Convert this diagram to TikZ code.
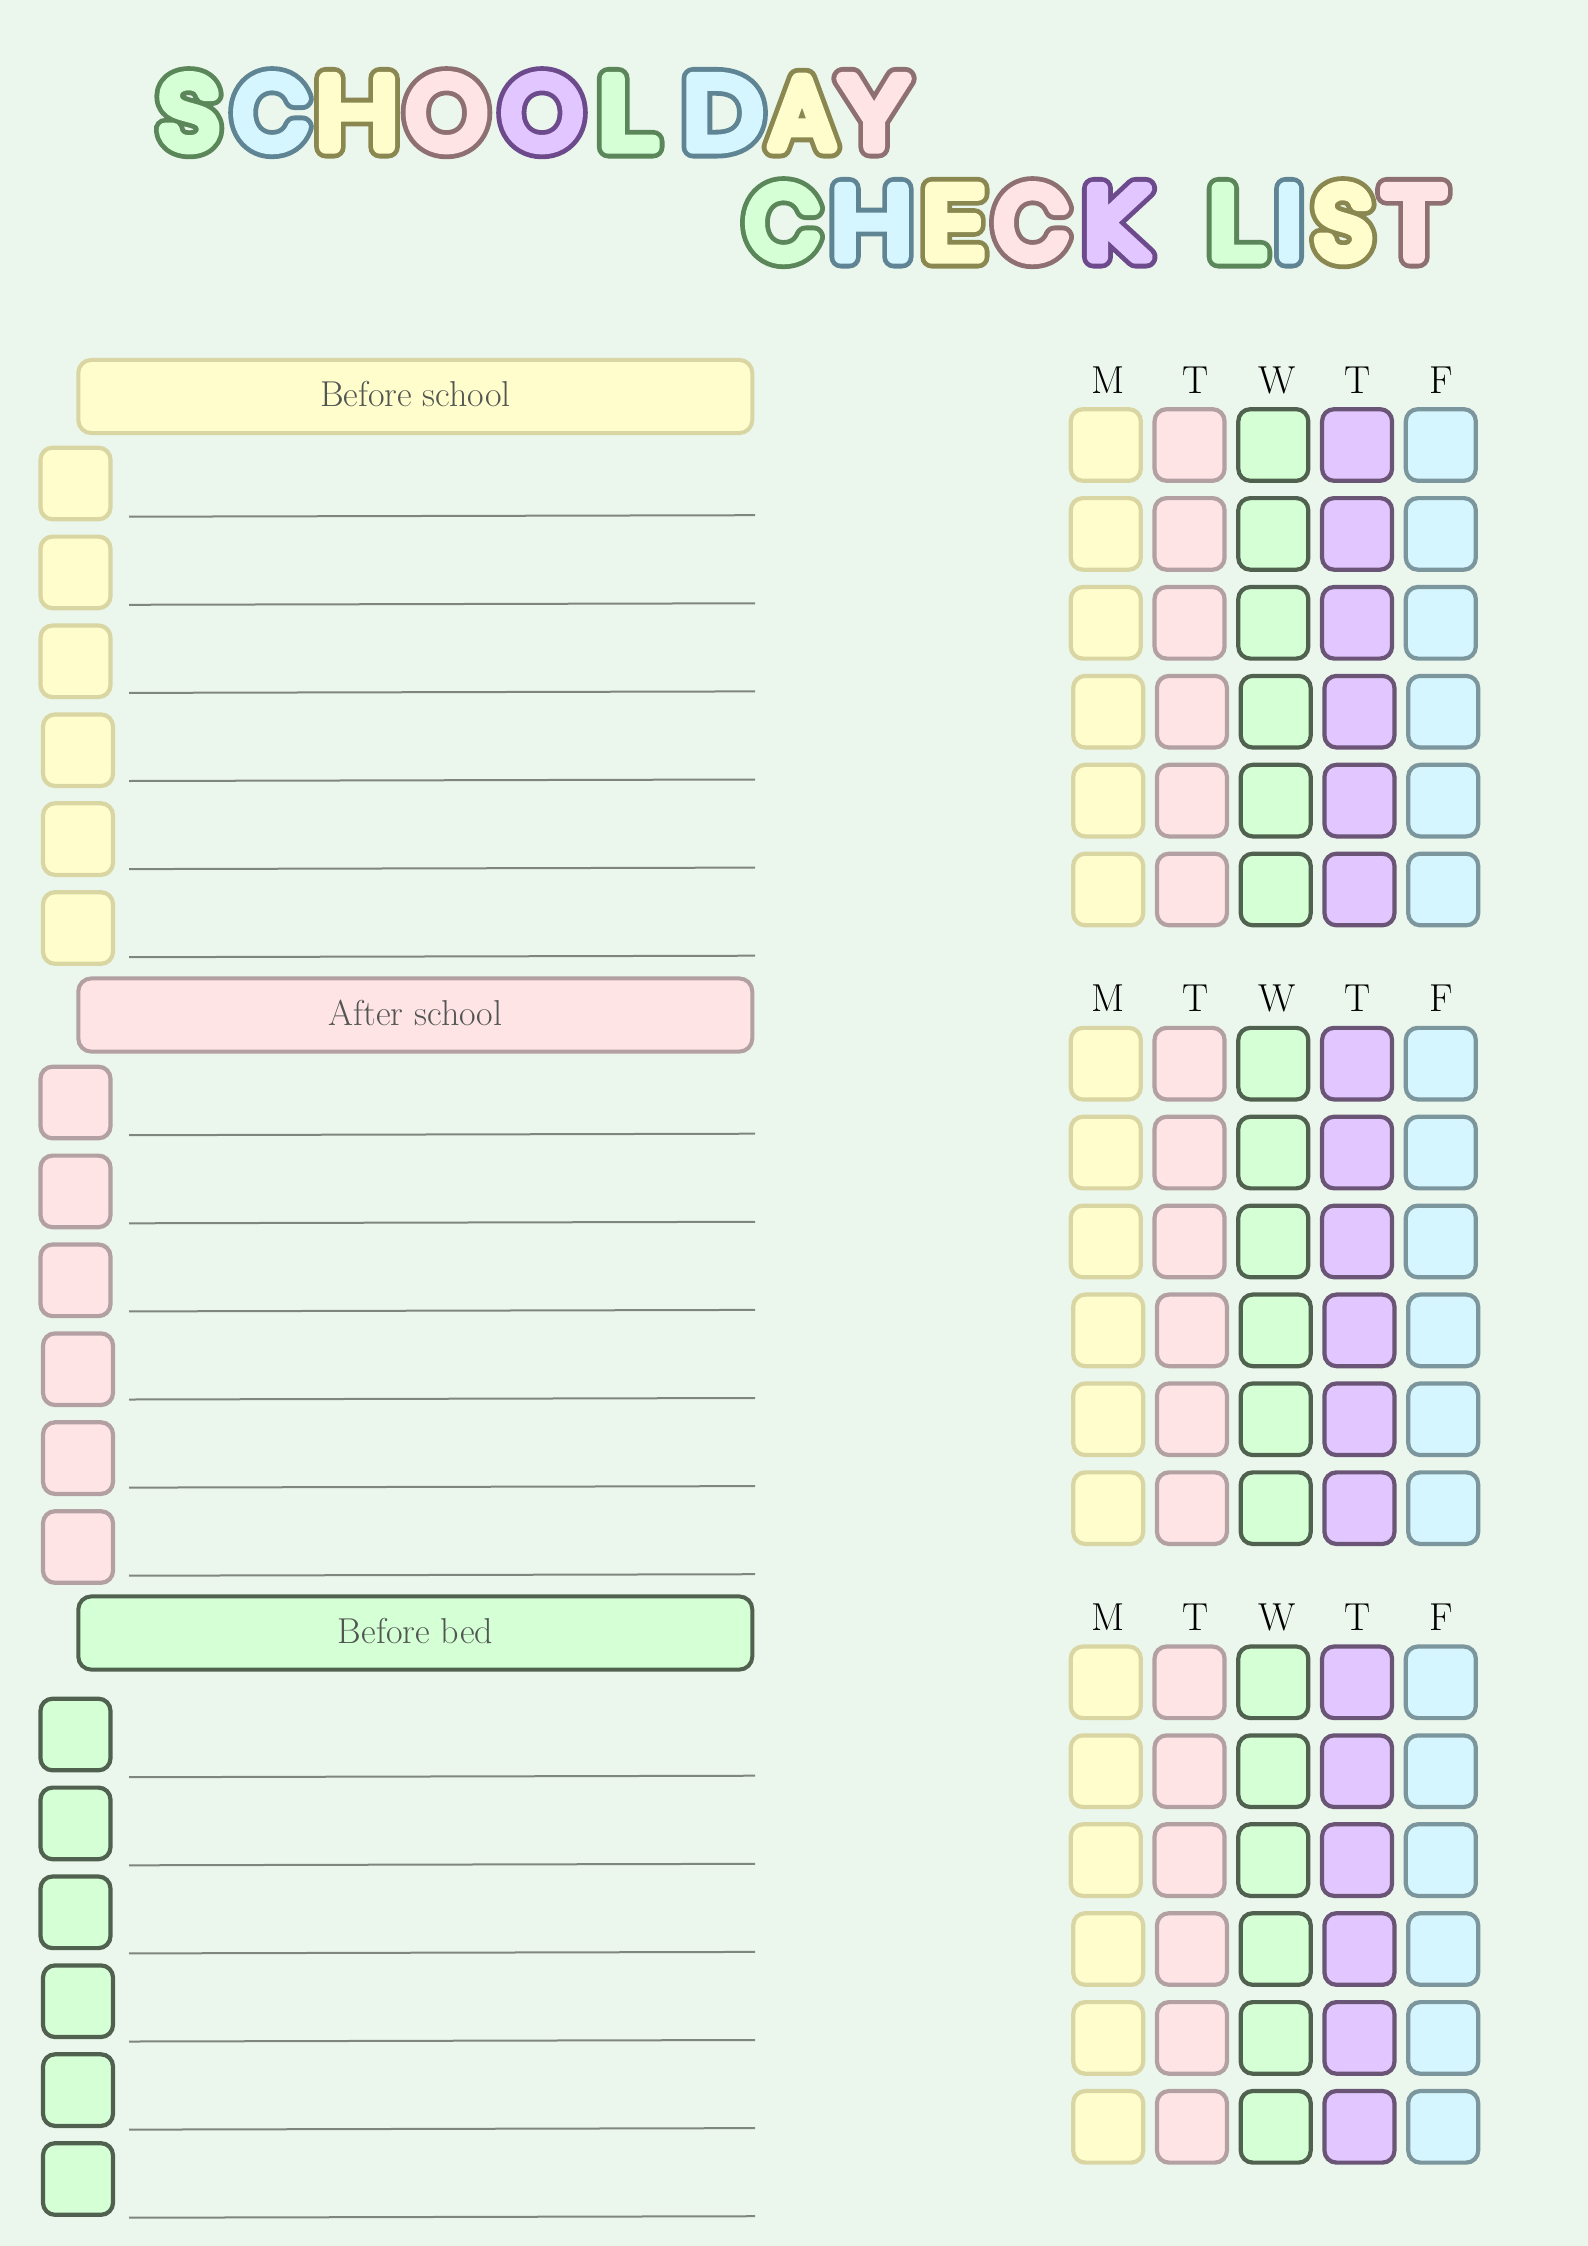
\documentclass[tikz,border=0pt]{standalone}
\usepackage{fontspec}
\definecolor{bgc}{HTML}{EBF7EC}
\definecolor{yf}{HTML}{FFFDCB}\definecolor{yl}{HTML}{D9D6A3}\definecolor{yt}{HTML}{8A8850}
\definecolor{pf}{HTML}{FFE4E6}\definecolor{pl}{HTML}{B3A0A3}\definecolor{pt}{HTML}{8E7072}
\definecolor{gf}{HTML}{D5FFD4}\definecolor{gl}{HTML}{50614F}\definecolor{gt}{HTML}{5A8659}
\definecolor{vf}{HTML}{E2C6FF}\definecolor{vl}{HTML}{6A5577}\definecolor{vt}{HTML}{6C4A8C}
\definecolor{bf}{HTML}{D5F6FF}\definecolor{bl}{HTML}{7C969E}\definecolor{bt}{HTML}{5F8594}
\newcommand{\ltr}[6]{% cx, baseline, letter, fill, line, stretch
 \node[inner sep=0pt,anchor=base,text=#5] at (#1,#2) {\fontspec{Poppins Light}[FakeStretch=#6]\fontsize{49}{49}\selectfont\special{pdf:code 2 Tr 11.5 w 1 j 1 J}#3\special{pdf:code 0 Tr 1 w}};
 \node[inner sep=0pt,anchor=base,text=#4] at (#1,#2) {\fontspec{Poppins Light}[FakeStretch=#6]\fontsize{49}{49}\selectfont\special{pdf:code 2 Tr 6.7 w 1 j 1 J}#3\special{pdf:code 0 Tr 1 w}};
}
\tikzset{
 cell/.style={draw=#1,line width=2.1pt,rounded corners=6pt,minimum width=35pt,minimum height=35.8pt,inner sep=0pt},
 head/.style={draw=#1,line width=2pt,rounded corners=6.5pt,minimum width=337pt,minimum height=36.6pt,inner sep=0pt},
 rule/.style={draw=black!46!bgc,line width=1pt},
 htext/.style={text=black!65!bgc,font=\fontsize{18}{20}\selectfont,inner sep=0pt},
 day/.style={text=black,font=\fontsize{19.5}{22}\selectfont,inner sep=0pt}
}
\begin{document}
\begin{tikzpicture}[x=0.5pt,y=-0.5pt]
\useasboundingbox (0,0) rectangle (1588,2246);
\fill[bgc] (0,0) rectangle (1588,2246);
% title
\ltr{189}{147}{S}{gf}{gt}{1.05}\ltr{271.5}{147}{C}{bf}{bt}{0.96}\ltr{357}{147}{H}{yf}{yt}{1.23}\ltr{446.5}{147}{O}{pf}{pt}{1.01}\ltr{542}{147}{O}{vf}{vt}{1.01}\ltr{626.5}{147}{L}{gf}{gt}{1.42}
\ltr{723}{147}{D}{bf}{bt}{1.12}\ltr{802}{147}{A}{yf}{yt}{1.0}\ltr{874}{147}{Y}{pf}{pt}{1.22}
\ltr{783}{257}{C}{gf}{gt}{0.95}\ltr{871.5}{257}{H}{bf}{bt}{1.2}\ltr{953.5}{257}{E}{yf}{yt}{1.29}\ltr{1032}{257}{C}{pf}{pt}{0.95}\ltr{1116.5}{257}{K}{vf}{vt}{1.15}
\ltr{1235.5}{257}{L}{gf}{gt}{1.35}\ltr{1289}{257}{I}{bf}{bt}{1.0}\ltr{1343}{257}{S}{yf}{yt}{1.0}\ltr{1414}{257}{T}{pf}{pt}{1.21}
% left column
\foreach \s/\hy/\fc/\lc/\lab/\by/\ly in {a/396.5/yf/yl/Before school/483.5/516, b/1015/pf/pl/After school/1102.5/1134.5, c/1633/gf/gl/Before bed/1734.5/1776.5}{
 \node[head=\lc,fill=\fc] (h\s) at (415.3,\hy) {};
 \node[htext] (t\s) at (415.5,\hy-2) {\lab};
 \foreach \i in {0,...,5}{
  \pgfmathsetmacro{\cx}{\i<3?75.5:78}
  \pgfmathsetmacro{\cy}{\by+\i*88.9}
  \pgfmathsetmacro{\lya}{\ly+0.7+\i*88.1}
  \node[cell=\lc,fill=\fc] (b\s\i) at (\cx,\cy) {};
  \coordinate (la\s\i) at (129,\lya);
  \coordinate (lb\s\i) at (755,\lya-1.5);
  \draw[rule] (la\s\i) -- (lb\s\i);
 }
}
% right grids
\foreach \g in {0,1,2}{
 \pgfmathsetmacro{\gy}{\g*618.65}
 \foreach \dx/\dl in {1108/M,1196/T,1277/W,1358/T,1441.5/F}{
  \node[day] at (\dx,380+\gy) {\dl};
 }
 \foreach \c/\fc/\lc in {0/yf/yl,1/pf/pl,2/gf/gl,3/vf/vl,4/bf/bl}{
  \foreach \r in {0,...,5}{
   \pgfmathsetmacro{\cx}{1105.8+\c*83.75+(\r<3?0:2.4)}
   \pgfmathsetmacro{\cy}{445+\r*88.9+\gy}
   \node[cell=\lc,fill=\fc] (g\g\c\r) at (\cx,\cy) {};
  }
 }
}
\end{tikzpicture}
\end{document}
